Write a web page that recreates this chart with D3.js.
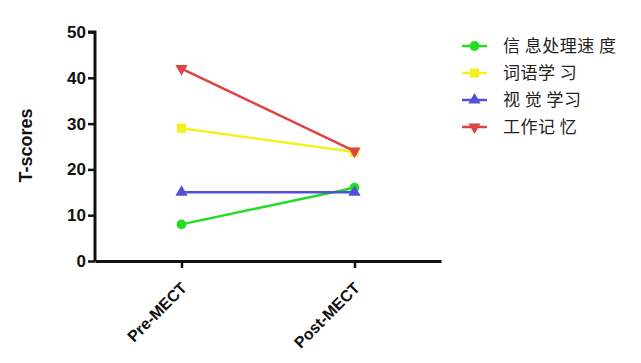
<!DOCTYPE html>
<html>
<head>
<meta charset="utf-8">
<script src="https://cdn.jsdelivr.net/npm/d3@7"></script>
<style>
  body { margin: 0; background: #fff; }
  text { font-family: Arial, "Liberation Sans", sans-serif; }
</style>
</head>
<body>
<svg class="chart"></svg>
<script>
var phases = ["Pre-MECT", "Post-MECT"];
var seriesNames = ["信 息处理速 度", "词语学 习", "视 觉 学习", "工作记 忆"];
var speedValues = [8, 16];
var verbalValues = [29, 23.8];
var visualValues = [15, 15];
var memoryValues = [42, 24];
var yTicks = [0, 10, 20, 30, 40, 50];

function show() {
    'use strict';

    var margin = {top: 32, left: 95},
        width = 346,
        height = 229;

    var svg = d3.select(".chart")
        .attr("width", 641)
        .attr("height", 363);

    var g = svg.append("g")
        .attr("transform", "translate(" + margin.left + "," + margin.top + ")");

    var x = d3.scalePoint().domain(phases).range([0, width]).padding(0.5);
    var y = d3.scaleLinear().domain([0, 50]).range([height, 0]);

    var series = [
        {name: seriesNames[0], values: speedValues, color: "#22dd22", shape: d3.symbolCircle, size: 75},
        {name: seriesNames[1], values: verbalValues, color: "#f6f020", shape: d3.symbolSquare, size: 85},
        {name: seriesNames[2], values: visualValues, color: "#5050d8", shape: d3.symbolTriangle, size: 65},
        {name: seriesNames[3], values: memoryValues, color: "#dd4444", shape: d3.symbolTriangle, size: 65, flip: true}
    ];

    // axes
    var yAxis = g.append("g")
        .call(d3.axisLeft(y).tickValues(yTicks).tickSize(7).tickPadding(2));
    var xAxis = g.append("g")
        .attr("transform", "translate(0," + height + ")")
        .call(d3.axisBottom(x).tickSize(7).tickSizeOuter(0));

    [yAxis, xAxis].forEach(function(a) {
        a.select(".domain").attr("stroke", "#111").attr("stroke-width", 3);
        a.selectAll(".tick line").attr("stroke", "#111").attr("stroke-width", 2.5);
        a.selectAll("text").attr("fill", "#111").style("font-weight", "bold");
    });
    yAxis.select(".domain").attr("d", "M0," + (height + 0.5) + "V0H-7");
    yAxis.selectAll("text").style("font-size", "17px");
    xAxis.selectAll("text")
        .style("font-size", "16px")
        .attr("text-anchor", "end")
        .attr("dy", "0.35em")
        .attr("transform", "translate(2,24) rotate(-45)")
        .attr("x", 0).attr("y", 0);

    g.append("text")
        .attr("transform", "translate(-63," + (height / 2 - 1) + ") rotate(-90)")
        .attr("text-anchor", "middle")
        .style("font-size", "18px")
        .style("font-weight", "bold")
        .attr("fill", "#111")
        .text("T-scores");

    var line = d3.line()
        .x(function(d, i) { return x(phases[i]); })
        .y(function(d) { return y(d); });

    var sg = g.selectAll(".series").data(series).enter()
        .append("g").attr("class", "series");

    sg.append("path")
        .attr("d", function(d) { return line(d.values); })
        .attr("fill", "none")
        .attr("stroke", function(d) { return d.color; })
        .attr("stroke-width", 2.5);

    sg.selectAll(".pt")
        .data(function(d) { return d.values.map(function(v, i) { return {v: v, i: i, s: d}; }); })
        .enter().append("path")
        .attr("class", "pt")
        .attr("d", function(d) { return d3.symbol().type(d.s.shape).size(d.s.size)(); })
        .attr("fill", function(d) { return d.s.color; })
        .attr("transform", function(d) {
            return "translate(" + x(phases[d.i]) + "," + y(d.v) + ")" + (d.s.flip ? " rotate(180)" : "");
        });

    // legend
    var legend = svg.append("g")
        .attr("transform", "translate(462,46)");
    var item = legend.selectAll(".item").data(series).enter()
        .append("g")
        .attr("transform", function(d, i) { return "translate(0," + (i * 27) + ")"; });
    item.append("line")
        .attr("x1", 0).attr("x2", 25)
        .attr("stroke", function(d) { return d.color; })
        .attr("stroke-width", 2.5);
    item.append("path")
        .attr("d", function(d) { return d3.symbol().type(d.shape).size(d.size)(); })
        .attr("fill", function(d) { return d.color; })
        .attr("transform", function(d) { return "translate(12.5,0)" + (d.flip ? " rotate(180)" : ""); });
    item.append("text")
        .attr("x", 41)
        .attr("dy", "0.35em")
        .style("font-family", "'Noto Sans CJK SC', sans-serif")
        .style("font-size", "17px")
        .style("letter-spacing", "0.5px")
        .attr("fill", "#222")
        .text(function(d) { return d.name; });
}
show();
</script>
</body>
</html>
